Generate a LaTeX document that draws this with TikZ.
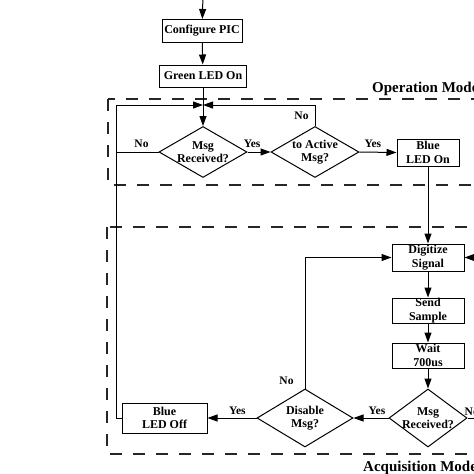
\documentclass[tikz,border=0pt]{standalone}
\usepackage{fontspec}
\setmainfont{Liberation Serif}
\usetikzlibrary{shapes.geometric,arrows.meta,positioning}

\begin{document}
\begin{tikzpicture}[x=1pt, y=-1pt,
    font=\bfseries\fontsize{12}{13.5}\selectfont,
    block/.style={draw, line width=1pt, align=center, inner sep=0pt,
        minimum width=72pt, minimum height=25pt},
    decision/.style={draw, diamond, line width=1pt, inner sep=0pt,
        minimum width=88pt, minimum height=51pt},
    dtext/.style={align=center, inner sep=0pt},
    flow/.style={line width=1pt, -{Triangle[length=10pt,width=7pt]}},
    wire/.style={line width=1pt},
    yesno/.style={font=\bfseries\fontsize{11.5}{13}\selectfont, inner sep=1pt},
    modebox/.style={dash pattern=on 12pt off 11pt, line width=1.4pt, draw=black!85},
    modename/.style={font=\bfseries\fontsize{15}{17}\selectfont,
        anchor=base west, inner sep=0pt}]
    \useasboundingbox (0,0) rectangle (474,474);
    \clip (0,0) rectangle (474,474);

    % mode frames
    \draw[modebox] (108,99) rectangle (520,185);
    \draw[modebox] (107,227) rectangle (520,454);
    \node[modename] (opmode) at (372,92) {Operation Mode};
    \node[modename] (acqmode) at (363,471) {Acquisition Mode};

    % steps
    \coordinate (start) at (203,-5);
    \node[block, minimum width=80pt, minimum height=23pt] (config) at (202,31) {Configure PIC};
    \node[block, minimum width=87pt, minimum height=22pt] (green) at (203,76) {Green LED On};
    \coordinate (merge) at (203,105);
    \coordinate (looptop) at (116,105);
    \node[decision, label={[dtext]center:Msg\\Received?}] (msg1) at (203,152) {};
    \node[decision, label={[dtext]center:to Active\\Msg?}] (active) at (315,152) {};
    \node[block, minimum width=62pt, minimum height=27pt] (blueon) at (428,152.5) {Blue\\LED On};
    \node[block, minimum height=27pt] (digitize) at (428,257.5) {Digitize\\Signal};
    \node[block] (send) at (428,310.5) {Send\\Sample};
    \node[block] (wait) at (428,355.5) {Wait\\700us};
    \node[decision, minimum width=78pt, minimum height=58pt,
        label={[dtext]center:Msg\\Received?}] (msg2) at (428,418) {};
    \node[decision, minimum width=96pt, minimum height=58pt,
        label={[dtext]center:Disable\\Msg?}] (disable) at (305,418) {};
    \node[block, minimum width=85pt, minimum height=30pt] (blueoff) at (164.5,418) {Blue\\LED Off};
    \coordinate (rightloop) at (510,418);

    % connectors
    \draw[flow] (start) -- (config);
    \draw[flow] (config) -- (green);
    \draw[flow] (green) -- (msg1);
    \draw[wire] (msg1.west) -- node[yesno, above=3pt, pos=0.4]{No} (msg1.west -| looptop);
    \draw[flow] (blueoff.west) -| (looptop) -- (merge);
    \draw[flow] (active.north) |- node[yesno, left=5pt, pos=0.25]{No} (merge);
    \draw[flow] (msg1.east) -- node[yesno, above=3pt, pos=0.2]{Yes} (active.west);
    \draw[flow] (active.east) -- node[yesno, above=3pt, pos=0.36]{Yes} (blueon.west);
    \draw[flow] (blueon) -- (digitize);
    \draw[flow] (digitize) -- (send);
    \draw[flow] (send) -- (wait);
    \draw[flow] (wait) -- (msg2);
    \draw[flow] (msg2.west) -- node[yesno, above=2pt, pos=0.33]{Yes} (disable.east);
    \draw[flow] (disable.west) -- node[yesno, above=2pt, pos=0.39]{Yes} (blueoff.east);
    \draw[flow] (disable.north) |- node[yesno, left=10pt, pos=0.03]{No} (digitize.west);
    \draw[flow] (msg2.east) -- node[yesno, above=1pt, pos=0.1]{No} (rightloop) |- (digitize.east);
\end{tikzpicture}
\end{document}
